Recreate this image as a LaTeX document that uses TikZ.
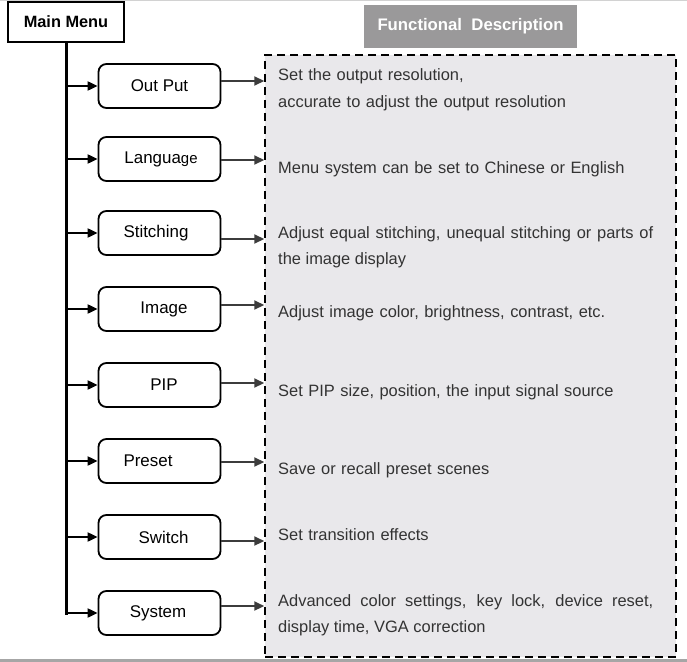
\documentclass[tikz,border=0pt]{standalone}
\usepackage{fontspec}
\setmainfont{Liberation Sans}
\usetikzlibrary{arrows.meta}
\hyphenpenalty=10000
\exhyphenpenalty=10000
\definecolor{descfill}{HTML}{E9E8EB}
\definecolor{headfill}{HTML}{9A999A}
\definecolor{desctext}{HTML}{333333}
\definecolor{linkgray}{HTML}{3C3C3C}
\tikzset{
	mainbox/.style={draw, line width=2.2bp, minimum width=116bp, minimum height=40bp, inner sep=0pt, font=\fontsize{16.4}{20}\selectfont\bfseries},
	headbox/.style={fill=headfill, minimum width=213bp, minimum height=43bp, inner sep=0pt, text=white, font=\fontsize{16.8}{20}\selectfont\bfseries},
	descbox/.style={draw, fill=descfill, line width=1.5bp, dash pattern=on 8bp off 5bp, minimum width=411bp, minimum height=602bp, inner sep=0pt},
	menubox/.style={draw, line width=1.8bp, rounded corners=8bp, minimum width=122bp, minimum height=44bp, inner sep=0pt, font=\fontsize{17}{20}\selectfont},
	descline/.style={anchor=base west, text width=375bp, inner sep=0pt, text=desctext, font=\fontsize{16.5}{26.3}\selectfont, align=left},
	branch/.style={line width=2bp, -{Triangle[length=10bp,width=9bp]}},
	link/.style={draw=linkgray, line width=2.2bp, -{Triangle[length=10bp,width=9bp,fill=linkgray]}},
}
\begin{document}
\begin{tikzpicture}[x=1bp, y=-1bp]
		\useasboundingbox (0,0) rectangle (687,662);
		\fill[gray!35] (0,0) rectangle (687,1.5);
		\fill[gray!70] (0,658.5) rectangle (687,662);
		% description panel
		\node[descbox] (desc) at (470.5,356) {};
		\node[headbox] (head) at (470.5,26.5) {Functional\ \ Description};
		\node[mainbox] (main) at (66,22) {Main Menu};
		% menu items
		\node[menubox] (out) at (159.5,86) {Out Put};
		\node[menubox] (lang) at (159.5,159) {\hspace*{3bp}Langua{\fontsize{15}{18}\selectfont ge}};
		\node[menubox] (stitch) at (159.5,233) {\hspace*{-7bp}Stitching};
		\node[menubox] (image) at (159.5,309) {\hspace*{9bp}Image};
		\node[menubox] (pip) at (159.5,385) {\hspace*{9bp}PIP};
		\node[menubox] (preset) at (159.5,461) {\hspace*{-23bp}Preset};
		\node[menubox] (switch) at (159.5,537) {\hspace*{8bp}Switch};
		\node[menubox] (system) at (159.5,613) {\hspace*{-3bp}System};
		% texts
		\node[descline] (t1) at (278,81) {Set the output resolution,\\accurate to adjust the output resolution};
		\node[descline] (t2) at (278,173) {Menu system can be set to Chinese or English};
		\node[descline, align=justify] (t3) at (278,238) {Adjust equal stitching, unequal stitching or parts of the image display};
		\node[descline] (t4) at (278,317) {Adjust image color, brightness, contrast, etc.};
		\node[descline] (t5) at (278,396) {Set PIP size, position, the input signal source};
		\node[descline] (t6) at (278,474) {Save or recall preset scenes};
		\node[descline] (t7) at (278,540) {Set transition effects};
		\node[descline, align=justify] (t8) at (278,606) {Advanced color settings, key lock, device reset, display time, VGA correction};
		% trunk and branches
		\draw[line width=3bp] (main.south) -- (main.south |- 0,614.5);
		\draw[branch] (main.south |- out.west) -- (out.west);
		\draw[branch] (main.south |- lang.west) -- (lang.west);
		\draw[branch] (main.south |- stitch.west) -- (stitch.west);
		\draw[branch] (main.south |- image.west) -- (image.west);
		\draw[branch] (main.south |- pip.west) -- (pip.west);
		\draw[branch] (main.south |- preset.west) -- (preset.west);
		\draw[branch] (main.south |- switch.west) -- (switch.west);
		\draw[branch] (main.south |- system.west) -- (system.west);
		% links to the panel
		\draw[link] (out.east |- 0,81) -- (desc.west |- 0,81);
		\draw[link] (lang.east |- 0,160) -- (desc.west |- 0,160);
		\draw[link] (stitch.east |- 0,239) -- (desc.west |- 0,239);
		\draw[link] (image.east |- 0,305) -- (desc.west |- 0,305);
		\draw[link] (pip.east |- 0,383) -- (desc.west |- 0,383);
		\draw[link] (preset.east |- 0,462) -- (desc.west |- 0,462);
		\draw[link] (switch.east |- 0,541) -- (desc.west |- 0,541);
		\draw[link] (system.east |- 0,606) -- (desc.west |- 0,606);
	\end{tikzpicture}
\end{document}
